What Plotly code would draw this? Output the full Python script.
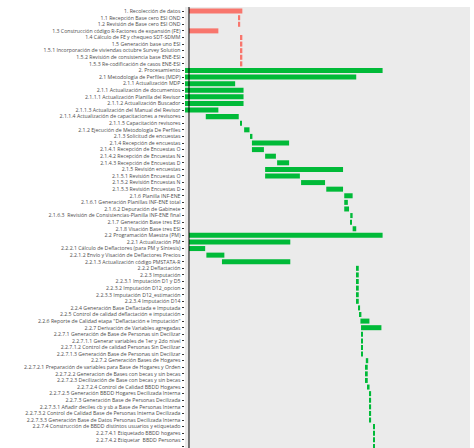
import plotly.graph_objects as go

tasks = [
    "1. Recolección de datos",
    "1.1 Recepción Base cero ESI OND",
    "1.2 Revisión de Base cero ESI OND",
    "1.3 Construcción código R-Factores de expansión (FE)",
    "1.4 Cálculo de FE y chequeo SDT-SDMM",
    "1.5 Generación base uno ESI",
    "1.5.1 Incorporación de viviendas octubre Survey Solution",
    "1.5.2 Revisión de consistencia base ENE-ESI",
    "1.5.3 Re-codificación de casos ENE-ESI",
    "2. Procesamiento",
    "2.1 Metodología de Perfiles (MDP)",
    "2.1.1 Actualización MDP",
    "2.1.1 Actualización de documentos",
    "2.1.1.1 Actualización Planilla del Revisor",
    "2.1.1.2 Actualización Buscador",
    "2.1.1.3 Actualización del Manual del Revisor",
    "2.1.1.4 Actualización de capacitaciones a revisores",
    "2.1.1.5 Capacitación revisores",
    "2.1.2 Ejecución de Metodología De Perfiles",
    "2.1.3 Solicitud de encuestas",
    "2.1.4 Recepción de encuestas",
    "2.1.4.1 Recepción de Encuestas O",
    "2.1.4.2 Recepción de Encuestas N",
    "2.1.4.3 Recepción de Encuestas D",
    "2.1.5 Revisión encuestas",
    "2.1.5.1 Revisión Encuestas O",
    "2.1.5.2 Revisión Encuestas N",
    "2.1.5.3 Revisión Encuestas D",
    "2.1.6 Planilla INF-ENE",
    "2.1.6.1 Generación Planillas INF-ENE total",
    "2.1.6.2 Depuración de Gabinete",
    "2.1.6.3  Revisión de Consistencias-Planilla INF-ENE final",
    "2.1.7 Generación Base tres ESI",
    "2.1.8 Visación Base tres ESI",
    "2.2 Programación Maestra (PM)",
    "2.2.1 Actualización PM",
    "2.2.2.1 Cálculo de Deflactores (para PM y Síntesis)",
    "2.2.1.2 Envío y Visación de Deflactores Precios",
    "2.2.1.3 Actualización código PMSTATA-R",
    "2.2.2 Deflactación",
    "2.2.3 Imputación",
    "2.2.3.1 Imputación D1 y D5",
    "2.2.3.2 Imputación D12_opcion",
    "2.2.3.3 Imputación D12_estimación",
    "2.2.3.4 Imputación D14",
    "2.2.4 Generación Base Deflactada e Imputada",
    "2.2.5 Control de calidad deflactación e imputación",
    "2.2.6 Reporte de Calidad etapa \"Deflactación e Imputación\"",
    "2.2.7 Derivación de Variables agregadas",
    "2.2.7.1 Generación de Base de Personas sin Decilizar",
    "2.2.7.1.1 Generar variables de 1er y 2do nivel",
    "2.2.7.1.2 Control de calidad Personas Sin Decilizar",
    "2.2.7.1.3 Generación Base de Personas sin Decilizar",
    "2.2.7.2 Generación Bases de Hogares",
    "2.2.7.2.1 Preparación de variables para Base de Hogares y Orden",
    "2.2.7.2.2 Generacion de Bases con becas y sin becas",
    "2.2.7.2.3 Decilización de Base con becas y sin becas",
    "2.2.7.2.4 Control de Calidad BBDD Hogares",
    "2.2.7.2.5 Generación BBDD Hogares Decilizada Interna",
    "2.2.7.3 Generación Base de Personas Decilizada",
    "2.2.7.3.1 Añadir deciles cb y sb a Base de Personas Interna",
    "2.2.7.3.2 Control de Calidad Base de Personas Interna Decilizada",
    "2.2.7.3.3 Generación Base de Datos Personas Decilizada Interna",
    "2.2.7.4 Construcción de BBDD distintos usuarios y etiquetado",
    "2.2.7.4.1 Etiquetado BBDD hogares",
    "2.2.7.4.2 Etiquetar  BBDD Personas",
    "2.2.7.4.3 Control de calidad BBDD Finales",
]

phase = ["Recolección"] * 9 + ["Procesamiento"] * 58

# start / end in days relative to the reference date (day 0)
start_day = [
    0, 41.2, 41.2, 0, 43.0, 43.0, 43.0, 43.0, 43.0,
    -5, -5, -5, -5, -5, -5, -5, 14, 42.6, 46, 51.4,
    52.5, 52.5, 63.5, 73.5, 63.5, 63.5, 93.5, 114.5,
    129.5, 129.5, 129.5, 134.5, 134.4, 136.5,
    0, 0, 0, 14.5, 27.5,
    140.1, 140.1, 140.1, 140.1, 140.1, 140.1, 141.2, 142.3,
    143, 143.5,
    143.5, 143.5, 143.5, 143.5, 147.5,
    147.6, 147.6, 147.6, 149.1,
    150.4, 150.4, 150.4, 150.4, 150.4,
    153.5, 153.5, 153.5, 153.5,
]
end_day = [
    44.5, 42.7, 42.7, 24.5, 44.5, 44.5, 44.5, 44.5, 44.5,
    161.5, 139.5, 38.5, 45.5, 45.5, 45.5, 24.5, 41.5, 44.1, 50.5, 52.9,
    83.5, 62.5, 72.5, 83.5, 128.5, 92.5, 113.5, 128.5,
    136.5, 132.5, 133.5, 136.5, 135.9, 139.5,
    161.5, 84.5, 13.5, 29.5, 84.5,
    141.6, 141.6, 141.6, 141.6, 141.6, 141.6, 142.7, 143.8,
    150.5, 160.5,
    145.0, 145.0, 145.0, 145.0, 149.5,
    149.1, 149.1, 149.1, 150.6,
    151.9, 151.9, 151.9, 151.9, 151.9,
    155.0, 155.0, 155.0, 155.0,
]

reference_day = 0
x_range = [-3.33, 234.4]

colors = {"Recolección": "#F8766D", "Procesamiento": "#00BA38"}

fig = go.Figure()
for ph in ["Recolección", "Procesamiento"]:
    idx = [i for i, p in enumerate(phase) if p == ph]
    fig.add_trace(go.Bar(
        orientation="h",
        y=idx,
        base=[start_day[i] for i in idx],
        x=[end_day[i] - start_day[i] for i in idx],
        width=0.76,
        marker=dict(color=colors[ph], line=dict(width=0)),
        name=ph,
        showlegend=False,
    ))

fig.add_vline(x=reference_day, line=dict(color="#000000", width=1))

fig.update_layout(
    width=474, height=448,
    margin=dict(l=185, r=4, t=7, b=0),
    paper_bgcolor="white",
    plot_bgcolor="#EBEBEB",
    barmode="overlay",
    font=dict(family="Open Sans", size=5.2, color="#4D4D4D"),
    xaxis=dict(range=x_range, showticklabels=False, showgrid=False,
               zeroline=False, ticks=""),
    yaxis=dict(range=[66.24, -0.62], tickvals=list(range(len(tasks))),
               ticktext=tasks, showgrid=False, zeroline=False,
               ticks="outside", ticklen=2.5, tickwidth=0.6,
               tickcolor="#333333", automargin=False,
               tickfont=dict(family="Open Sans", size=5.2, color="#4D4D4D")),
)

fig.write_html(
    "out.html",
    config={"displayModeBar": False},
    post_script="document.body.style.margin='0';document.body.style.overflow='hidden';",
)
